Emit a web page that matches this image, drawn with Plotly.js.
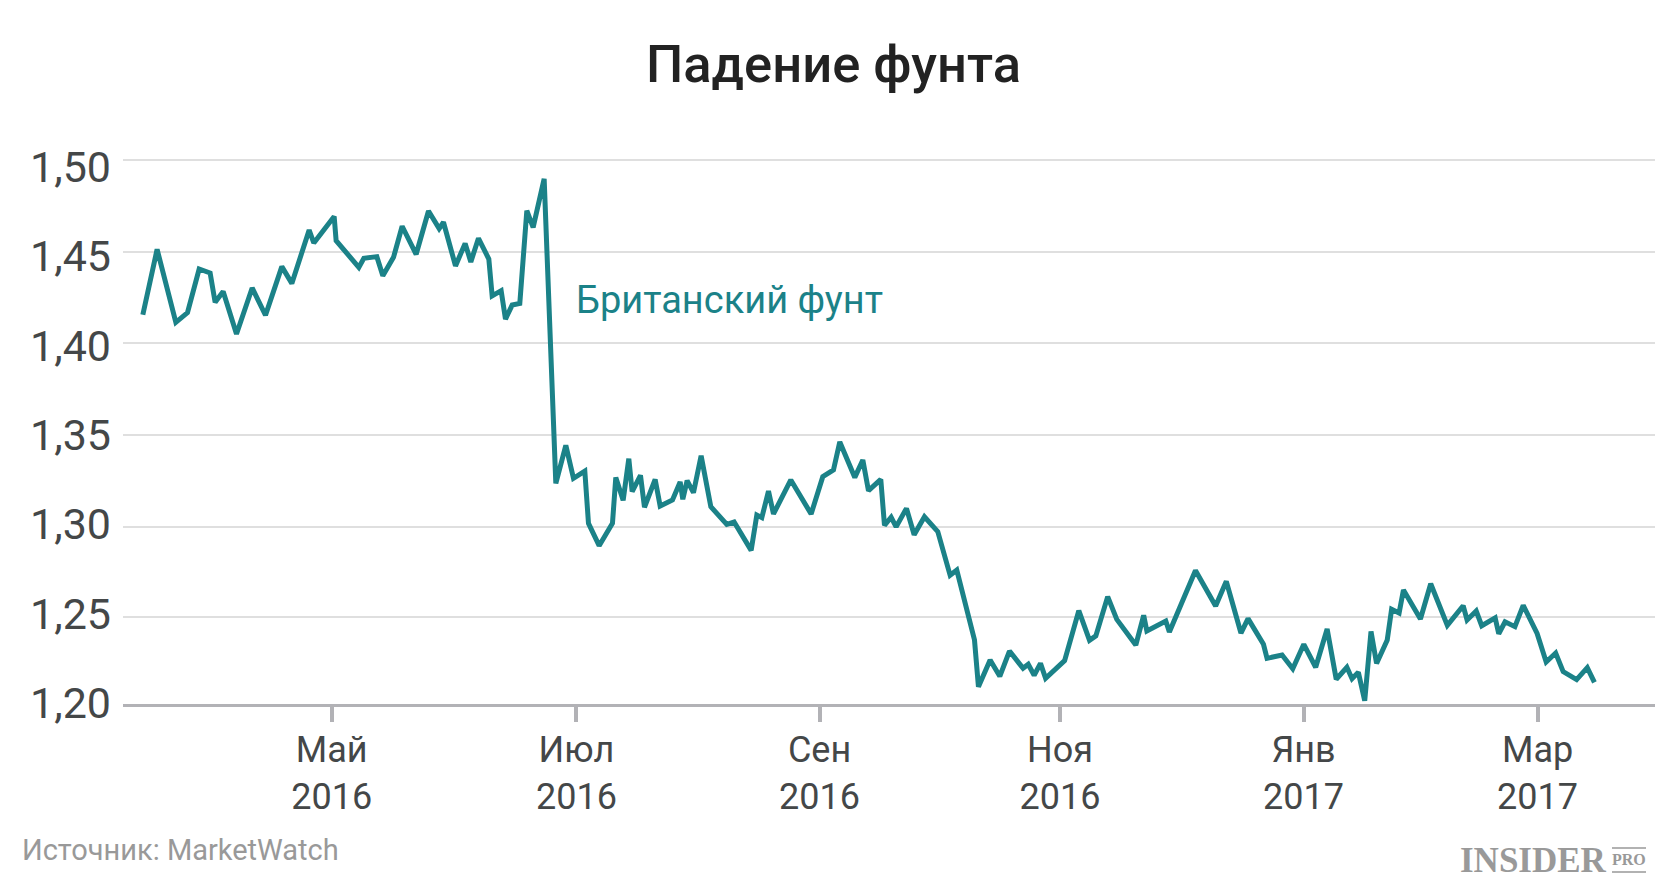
<!DOCTYPE html>
<html>
<head>
<meta charset="utf-8">
<script src="https://cdn.plot.ly/plotly-3.0.1.min.js"></script>
<style>html,body{margin:0;padding:0;background:#fff}#chart{width:1667px;height:885px}</style>
</head>
<body>
<div id="chart"></div>
<script>
// Days after 1 May 2016
const dayOffsets = [
-47.6,-44.0,-39.28,-36.34,-33.4,-30.63,-29.37,-27.35,-23.99,-20.04,-16.68,-12.56,-10.04,-5.67,-4.5,0.63,1.13,6.85,8.11,11.39,
12.9,15.59,17.77,21.3,24.41,27.1,28.19,31.22,33.65,35.08,37.01,39.62,40.46,42.73,43.82,45.5,47.43,49.2,50.79,53.57,
56.51,59.03,60.96,63.82,64.74,67.43,70.79,71.63,73.48,74.91,75.75,77.85,78.86,81.55,82.81,85.92,87.85,88.52,89.61,91.21,
93.14,95.58,99.61,101.46,105.75,107.18,108.44,110.12,111.38,115.75,120.87,123.81,126.5,128.1,131.88,133.9,135.33,138.43,139.36,141.04,
142.3,144.9,146.84,149.44,152.8,155.91,157.59,162.05,163.05,165.99,168.43,170.87,174.3,175.6,177.09,178.69,179.98,184.77,188.35,191.05,
192.64,195.63,197.92,200.41,202.71,204.7,205.5,210.28,211.18,217.76,222.84,225.53,229.22,231.01,234.9,235.8,239.59,242.28,245.07,248.06,
250.95,253.24,255.93,257.23,258.82,260.42,262.01,263.41,266.1,267.2,269.09,270.19,274.47,277.06,281.25,285.24,286.23,288.53,289.92,293.31,
294.21,295.8,298.29,300.38,303.88,306.17,308.56,310.45,313.84,316.53,318.33];

// GBP/USD rate at each of those days
const poundRate = [
1.4150,1.4509,1.4108,1.4161,1.4401,1.4379,1.4218,1.4277,1.4044,1.4297,1.4147,1.4414,1.4322,1.4615,1.4544,1.4690,1.4557,1.4410,1.4460,1.4469,
1.4364,1.4465,1.4636,1.4482,1.4720,1.4623,1.4658,1.4418,1.4542,1.4440,1.4570,1.4456,1.4253,1.4282,1.4126,1.4203,1.4212,1.4722,1.4630,1.4896,
1.3223,1.3432,1.3251,1.3291,1.3004,1.2881,1.3004,1.3256,1.3130,1.3359,1.3178,1.3267,1.3092,1.3245,1.3099,1.3132,1.3231,1.3136,1.3238,1.3172,
1.3375,1.3095,1.2998,1.3011,1.2855,1.3049,1.3035,1.3181,1.3055,1.3242,1.3055,1.3260,1.3297,1.3451,1.3256,1.3352,1.3183,1.3245,1.2993,1.3037,
1.2984,1.3086,1.2941,1.3040,1.2958,1.2718,1.2747,1.2363,1.2106,1.2253,1.2163,1.2302,1.2207,1.2229,1.2169,1.2234,1.2152,1.2249,1.2524,1.2361,
1.2385,1.2601,1.2476,1.2408,1.2335,1.2498,1.2412,1.2467,1.2407,1.2744,1.2549,1.2685,1.2401,1.2480,1.2339,1.2262,1.2280,1.2205,1.2339,1.2213,
1.2423,1.2147,1.2213,1.2150,1.2185,1.2029,1.2410,1.2234,1.2363,1.2531,1.2511,1.2637,1.2478,1.2672,1.2443,1.2551,1.2473,1.2522,1.2441,1.2484,
1.2397,1.2463,1.2436,1.2553,1.2399,1.2242,1.2291,1.2189,1.2145,1.2211,1.2130];

const seriesName = 'Британский фунт';
const chartTitle = 'Падение фунта';
const sourceText = 'Источник: MarketWatch';
const monthTicks = ['2016-05-01','2016-07-01 17:00','2016-09-01','2016-10-31 15:00','2017-01-01','2017-03-01'];
const monthLabels = ['Май<br>2016','Июл<br>2016','Сен<br>2016','Ноя<br>2016','Янв<br>2017','Мар<br>2017'];
const gridValues = [1.2491,1.2985,1.3489,1.3993,1.4496,1.5];
const rateLabelValues = [1.2,1.25,1.3,1.35,1.4,1.45,1.5];
const rateLabels = ['1,20','1,25','1,30','1,35','1,40','1,45','1,50'];

const W = 1667, H = 885, L = 123, R = 1655, T = 158, B = 704;
const px = x => (x - L) / (R - L);
const py = y => (B - y) / (B - T);
const DAY = 864e5, MAY1 = Date.UTC(2016, 4, 1);
const dates = dayOffsets.map(d => new Date(MAY1 + d * DAY).toISOString());

const TEAL = '#1b8288', TEXT = '#444748', AXIS = '#b2b2b6', GRID = '#dfdfdf', SOFT = '#999999';

const traces = [
  {x: dates, y: poundRate, type: 'scatter', mode: 'lines', name: seriesName, hoverinfo: 'x+y',
   line: {color: TEAL, width: 5, shape: 'linear'}, xaxis: 'x', yaxis: 'y'},
  {x: [dates[0]], y: [1.35], type: 'scatter', mode: 'markers', marker: {opacity: 0, size: 1}, hoverinfo: 'skip',
   showlegend: false, xaxis: 'x', yaxis: 'y2'}
];

const layout = {
  width: W, height: H, showlegend: false, paper_bgcolor: '#fff', plot_bgcolor: '#fff',
  font: {family: 'Roboto, sans-serif', color: TEXT},
  margin: {l: L, r: W - R, t: T, b: H - B, pad: 0},
  title: {text: chartTitle, x: 0.5, xref: 'container', xanchor: 'center', y: 1 - 64 / H, yref: 'container', yanchor: 'middle',
          font: {family: 'Roboto, sans-serif', size: 52.5, weight: 500, color: '#222222'}},
  xaxis: {type: 'date', range: ['2016-03-09 09:36', '2017-03-30 14:24'], tickmode: 'array', tickvals: monthTicks, ticktext: monthLabels,
          showgrid: false, zeroline: false, showline: true, linecolor: AXIS, linewidth: 3,
          ticks: 'outside', ticklen: 15, tickwidth: 3.5, tickcolor: AXIS, ticklabelstandoff: -3,
          tickangle: 0, tickfont: {size: 36, color: TEXT}},
  yaxis: {range: [1.2011, 1.5011], tickmode: 'array', tickvals: gridValues, showticklabels: false, ticks: '',
          showgrid: true, gridcolor: GRID, gridwidth: 2, zeroline: false, showline: false},
  yaxis2: {overlaying: 'y', side: 'left', range: [1.1994, 1.5050], tickmode: 'array', tickvals: rateLabelValues, ticktext: rateLabels,
           showgrid: false, zeroline: false, showline: false, ticks: '', ticklabelstandoff: 11,
           tickfont: {size: 43, color: TEXT}},
  annotations: [
    {text: seriesName, xref: 'paper', yref: 'paper', x: px(574), y: py(300), xanchor: 'left', yanchor: 'middle', showarrow: false,
     font: {size: 38, color: TEAL}},
    {text: sourceText, xref: 'paper', yref: 'paper', x: px(20), y: py(850), xanchor: 'left', yanchor: 'middle', showarrow: false,
     font: {size: 29, color: SOFT}},
    {text: 'INSIDER', xref: 'paper', yref: 'paper', x: px(1609), y: py(861), xanchor: 'right', yanchor: 'middle', showarrow: false,
     font: {family: '"Liberation Serif", serif', size: 35, weight: 700, color: SOFT}},
    {text: 'PRO', xref: 'paper', yref: 'paper', x: px(1629), y: py(860), xanchor: 'center', yanchor: 'middle', showarrow: false,
     font: {family: '"Liberation Serif", serif', size: 16, weight: 700, color: SOFT}}
  ],
  shapes: [848, 872].map(y => ({type: 'line', xref: 'paper', yref: 'paper', x0: px(1612), x1: px(1646), y0: py(y), y1: py(y),
     line: {color: SOFT, width: 1.5}}))
};

Plotly.newPlot('chart', traces, layout, {displayModeBar: false, responsive: false});
</script>
</body>
</html>
